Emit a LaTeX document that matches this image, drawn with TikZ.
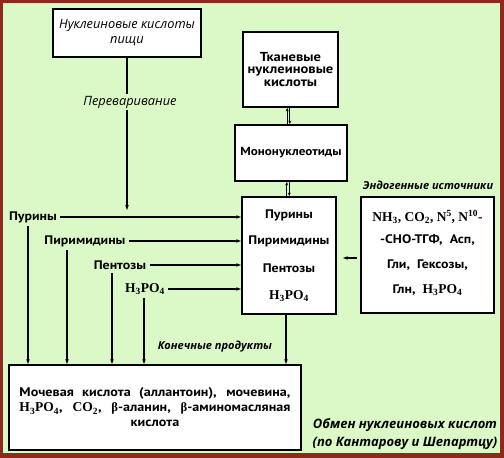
\documentclass[tikz,border=0pt]{standalone}
\usepackage{fontspec}
\setmainfont{PT Sans}
\newfontfamily\scanf[FakeStretch=1.12]{PT Sans}
\newfontfamily\annf{Open Sans}
\newfontfamily\serf{Liberation Serif}
\usetikzlibrary{arrows.meta,calc}
\definecolor{bg}{HTML}{DBF9C6}
\definecolor{framecol}{HTML}{8E2A1C}
\newcommand\chem[1]{{\serf\bfseries\fontsize{13.5}{15}\selectfont #1}}
\newcommand\HPO{\chem{H\textsubscript{3}PO\textsubscript{4}}}
\begin{document}
\begin{tikzpicture}[x=1pt,y=-1pt,
  box/.style={draw=black,line width=1.8pt,fill=white,inner sep=0pt},
  scan/.style={font=\scanf\bfseries\fontsize{12.4}{14}\selectfont},
  scans/.style={font=\scanf\bfseries\fontsize{11.7}{12.5}\selectfont},
  scant/.style={font=\scanf\bfseries\fontsize{13}{12.5}\selectfont},
  ann/.style={font=\annf\itshape\fontsize{12.8}{15}\selectfont},
  annb/.style={font=\annf\bfseries\itshape\fontsize{11}{12}\selectfont},
  capt/.style={font=\annf\bfseries\itshape\fontsize{13}{18}\selectfont},
  conn/.style={line width=1.1pt},
  arr/.style={conn,-{Stealth[length=5pt,width=3.5pt]}},
  dbl/.style={line width=0.9pt,-{Stealth[length=3.5pt,width=3pt]}}]
\fill[framecol] (0,0) rectangle (504,458);
\fill[bg] (3,3) rectangle (500,453);
\useasboundingbox (0,0) rectangle (504,458);

% boxes
\node[box,minimum width=148pt,minimum height=48pt,ann,align=center] (food) at (127,33) {Нуклеиновые кислоты\\пищи};
\node[box,minimum width=95pt,minimum height=75pt,scant,align=center] (tissue) at (290.5,69.5) {Тканевые\\нуклеиновые\\кислоты};
\node[box,minimum width=112pt,minimum height=56pt,scans] (mono) at (291,153) {Мононуклеотиды};
\node[box,minimum width=94pt,minimum height=117pt] (main) at (289,255.5) {};
\node[box,minimum width=133pt,minimum height=116pt] (endo) at (427.5,255) {};
\node[box,minimum width=292pt,minimum height=85pt,align=center,font=\scanf\bfseries\fontsize{12.6}{15}\selectfont] (bot) at (155,407.5)
  {\makebox[271pt][s]{Мочевая кислота (аллантоин), мочевина,}\\
   \makebox[271pt][s]{\HPO, \chem{CO\textsubscript{2}}, {\serf β}-аланин, {\serf β}-аминомасляная}\\
   кислота};

% main box contents
\node[scan] (mpur) at (289,215) {Пурины};
\node[scan] (mpir) at (289,241) {Пиримидины};
\node[scan] (mpen) at (289,268) {Пентозы};
\node[scan] (mh) at (289,296) {\HPO};

% endogenous box contents
\node[scan] (e1) at (427.5,217) {\chem{NH\textsubscript{3}, CO\textsubscript{2}, N\textsuperscript{5}, N\textsuperscript{10}-}};
\node[scan] (e2) at (427.5,240) {-CHO-ТГФ,\ \ Асп,};
\node[scan] (e3) at (427.5,265) {Гли,\ \ Гексозы,};
\node[scan] (e4) at (427.5,290) {Глн,\ \ \HPO};

% left labels
\node[scan] (lpur) at (33,217) {Пурины};
\node[scan] (lpir) at (85,241) {Пиримидины};
\node[scan] (lpen) at (120,265) {Пентозы};
\node[scan] (lh) at (145,289) {\HPO};

% digestion
\coordinate (digend) at (127,210);
\draw[arr] (food.south) -- (food.south |- digend);
\node[ann,fill=bg,inner sep=2pt] (dig) at (130,102) {Переваривание};

% horizontal arrows into main box
\draw[arr] (lpur.east) -- (lpur.east -| main.west);
\draw[arr] (lpir.east) -- (lpir.east -| main.west);
\draw[arr] (lpen.east) -- (lpen.east -| main.west);
\draw[arr] (lh.east) -- (lh.east -| main.west);

% vertical arrows to final products
\draw[arr] ([xshift=-5pt]lpur.south) -- ([xshift=-5pt]lpur.south |- bot.north);
\draw[arr] ([xshift=-18pt]lpir.south) -- ([xshift=-18pt]lpir.south |- bot.north);
\draw[arr] ([xshift=-8pt]lpen.south) -- ([xshift=-8pt]lpen.south |- bot.north);
\draw[arr] ([xshift=-1pt]lh.south) -- ([xshift=-1pt]lh.south |- bot.north);
\draw[arr] ([xshift=-3pt]main.south) -- ([xshift=-3pt]main.south |- bot.north);

% endogenous arrow
\draw[arr,shorten >=6pt,shorten <=3pt] ([yshift=-3pt]endo.west) -- ([yshift=-3pt]endo.west -| main.east);

% double arrows
\draw[dbl] ([xshift=-3.8pt]mono.north) -- ([xshift=-3.8pt]mono.north |- tissue.south);
\draw[dbl] ([xshift=-1.2pt]mono.north |- tissue.south) -- ([xshift=-1.2pt]mono.north);
\draw[dbl] ([xshift=-4.3pt]main.north -| mono.south) -- ([xshift=-4.3pt]mono.south);
\draw[dbl] ([xshift=-1.7pt]mono.south) -- ([xshift=-1.7pt]main.north -| mono.south);

% labels
\node[annb] (endl) at (428,185) {Эндогенные источники};
\node[annb] (fin) at (215,347) {Конечные продукты};
\node[capt,align=center] (cap) at (405,434) {Обмен нуклеиновых кислот\\(по Кантарову и Шепартцу)};
\end{tikzpicture}
\end{document}
